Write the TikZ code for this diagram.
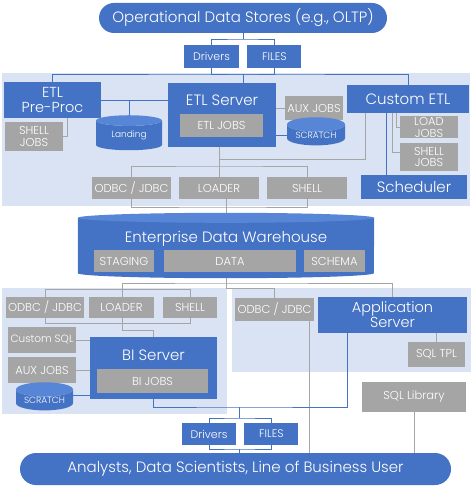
\documentclass[tikz,border=0pt]{standalone}
\usepackage{fontspec}
\setmainfont{Poppins}[UprightFont=* Light]
\usetikzlibrary{positioning, shapes.geometric, backgrounds}

\definecolor{odsblue}{RGB}{68,114,196}
\definecolor{odstop}{RGB}{88,134,214}
\definecolor{jobgray}{RGB}{165,165,165}
\definecolor{zoneblue}{RGB}{218,227,243}

\tikzset{
  sz/.style 2 args={minimum width=#1pt, minimum height=#2pt},
  bluebox/.style={rectangle, fill=odsblue, text=white, inner sep=0pt, align=center, font=\fontsize{15}{16}\selectfont},
  graybox/.style={rectangle, fill=jobgray, text=white, inner sep=0pt, align=center, font=\fontsize{11.5}{11.5}\selectfont},
  smallblue/.style={bluebox, font=\fontsize{11}{11}\selectfont},
  pill/.style={bluebox, rounded corners=15pt},
  drum/.style={cylinder, shape border rotate=90, cylinder uses custom fill, cylinder body fill=odsblue, cylinder end fill=odstop, text=white, inner sep=0pt, font=\fontsize{9}{9}\selectfont},
  title/.style={text=white, inner sep=0pt, font=\fontsize{15}{16}\selectfont},
  bline/.style={draw=odsblue, line width=0.9pt},
  gline/.style={draw=jobgray, line width=0.9pt},
  zone/.style={fill=zoneblue},
}

\begin{document}
\begin{tikzpicture}[x=1pt, y=-1pt]
  \useasboundingbox (0,0) rectangle (474,489);

  % zones
  \begin{scope}[on background layer]
    \fill[zone] (2,73) rectangle (470,206);
    \fill[zone] (2,288) rectangle (227,414);
    \fill[zone] (232,288) rectangle (471,372);
  \end{scope}

  % sources
  \node (ods) [pill, sz={288}{30}] at (243,18) {Operational Data Stores (e.g., OLTP)};
  \node (drv1) [smallblue, sz={55}{23}] at (211.5,56.5) {Drivers};
  \node (files1) [smallblue, sz={54}{23}, right=8pt of drv1] {FILES};

  % ETL tier
  \node (preproc) [bluebox, sz={97}{36}, font=\fontsize{14.5}{15}\selectfont] at (52.5,100) {ETL\\Pre-Proc};
  \node (preshell) [graybox, sz={58}{29}] at (34,136.5) {SHELL\\JOBS};
  \node (landing) [drum, sz={66}{35}, aspect=0.3] at (129,135.5) {Landing};
  \node (etlsrv) [bluebox, sz={108}{64}] at (222,115) {};
  \node (etltitle) [title] at (222,100) {ETL Server};
  \node (etljobs) [graybox, sz={83}{23}] at (221.5,125.5) {ETL JOBS};
  \node (etlaux) [graybox, sz={58}{24}] at (314,108) {AUX JOBS};
  \node (etlscratch) [drum, sz={58}{24}, aspect=0.35] at (316,135) {SCRATCH};
  \node (custom) [bluebox, sz={122}{28}] at (408,99) {Custom ETL};
  \node (loadjobs) [graybox, sz={58}{22}] at (429,127.5) {LOAD\\JOBS};
  \node (custshell) [graybox, sz={58}{28}] at (429,157) {SHELL\\JOBS};
  \node (sched) [bluebox, sz={106}{24}] at (414,187) {Scheduler};
  \node (odbc1) [graybox, sz={79}{22}] at (131.5,188) {ODBC / JDBC};
  \node (loader1) [graybox, sz={80}{22}] at (219,188) {LOADER};
  \node (shell1) [graybox, sz={80}{22}] at (307,188) {SHELL};

  % warehouse
  \node (edw) [sz={296}{65}, inner sep=0pt] at (226,245.5) {};
  \fill[odsblue] ([yshift=-5pt]edw.north west) -- ([yshift=5pt]edw.south west)
    arc[start angle=180, end angle=360, x radius=148pt, y radius=5pt]
    -- ([yshift=-5pt]edw.north east) -- cycle;
  \fill[odstop] ([yshift=-5pt]edw.north) ellipse [x radius=148pt, y radius=5pt];
  \node (edwtitle) [title] at (226,239) {Enterprise Data Warehouse};
  \node (staging) [graybox, sz={60}{22}] at (124,261) {STAGING};
  \node (data) [graybox, sz={132}{22}] at (230,261) {DATA};
  \node (schema) [graybox, sz={61}{22}] at (334.5,261) {SCHEMA};

  % BI tier
  \node (odbc2) [graybox, sz={78}{21}] at (45,307.5) {ODBC / JDBC};
  \node (loader2) [graybox, sz={65}{21}] at (121.5,307.5) {LOADER};
  \node (shell2) [graybox, sz={54}{21}] at (190,307.5) {SHELL};
  \node (customsql) [graybox, sz={68}{26}, font=\fontsize{10.5}{11}\selectfont] at (42,340) {Custom SQL};
  \node (biaux) [graybox, sz={68}{26}] at (42,370) {AUX JOBS};
  \node (biscratch) [drum, sz={57}{24}, aspect=0.35] at (44.5,400) {SCRATCH};
  \node (bisrv) [bluebox, sz={127}{62}] at (153.5,368) {};
  \node (bititle) [title] at (153.5,355) {BI Server};
  \node (bijobs) [graybox, sz={111}{24}] at (152.5,381) {BI JOBS};

  % application tier
  \node (odbc3) [graybox, sz={79}{23}] at (274.5,309.5) {ODBC / JDBC};
  \node (appsrv) [bluebox, sz={149}{36}, font=\fontsize{14.5}{15}\selectfont] at (392.5,315) {Application\\Server};
  \node (sqltpl) [graybox, sz={57}{25}] at (436.5,354.5) {SQL TPL};
  \node (sqllib) [graybox, sz={104}{30}] at (414,397) {SQL Library};

  % consumers
  \node (drv2) [smallblue, sz={54}{22}] at (209,434) {Drivers};
  \node (files2) [smallblue, sz={54}{22}, right=8pt of drv2] {FILES};
  \node (users) [pill, sz={431}{32}, rounded corners=16pt] at (235.5,469) {Analysts, Data Scientists, Line of Business User};

  % junctions
  \coordinate (odsj) at (243,39);
  \coordinate (bus1) at (243,74);
  \coordinate (etlj1) at (219,159);
  \coordinate (etlj2) at (219,166);
  \coordinate (edwin) at (226,207);
  \coordinate (edwout) at (226,283);
  \coordinate (edwout2) at (226,288);
  \coordinate (bij) at (122,330);
  \coordinate (bus3) at (239,407);
  \coordinate (bus4) at (239,418);
  \coordinate (bus5) at (239,449);

  % connectors
  \begin{scope}[on background layer]
    \draw[bline] (ods.south) -- (odsj);
    \draw[bline] (drv1.north) |- (odsj) -| (files1.north);
    \draw[bline] (drv1.south) |- (bus1) -| (files1.south);
    \draw[bline] (preproc.north) |- (bus1) -| (custom.north);
    \draw[bline] (bus1) -- (bus1 |- etlsrv.north);
    \draw[bline] (preproc.east) -- (preproc.east -| etlsrv.west);
    \draw[bline] (landing.north) -- (landing.north |- preproc.east);
    \draw[bline] (etlscratch.west) -- (etlscratch.west -| etlsrv.east);
    \draw[bline] ([xshift=-28pt]sched.north) -- ([xshift=-28pt]sched.north |- custom.south);
    \draw[gline] ([xshift=15pt]preproc.south) |- (preshell.east);
    \draw[gline] (etlaux.west) -- (etlaux.west -| etlsrv.east);
    \draw[gline] ([xshift=-12pt]custom.south) |- (loadjobs.west);
    \draw[gline] ([xshift=-16pt]custom.south) |- ([yshift=5pt]custshell.west);
    \draw[gline] ([xshift=-43pt]custom.south) |- (etlj1);
    \draw[gline] (etlj1 |- etlsrv.south) -- (etlj2);
    \draw[gline] (odbc1.north) |- (etlj2) -| (shell1.north);
    \draw[gline] (etlj2) -- (loader1.north);
    \draw[gline] (odbc1.south) |- (edwin) -| (shell1.south);
    \draw[gline] (edwin |- loader1.south) -- (edw.north);
    \draw[gline] (edw.south) -- (edwout2);
    \draw[gline] (appsrv.north) |- (edwout) -| (bij) -| (bisrv.north);
    \draw[gline] (edwout2) -| (odbc3.north);
    \draw[gline] ([yshift=7pt]odbc2.north) rectangle ([yshift=-5pt]shell2.south);
    \draw[gline] (customsql.east) -- (customsql.east -| bisrv.west);
    \draw[gline] (biaux.east) -- (biaux.east -| bisrv.west);
    \draw[bline] ([yshift=5pt]biscratch.east) -- ([yshift=5pt]biscratch.east -| bisrv.west);
    \draw[gline] (sqltpl.north) -- (sqltpl.north |- appsrv.south);
    \draw[gline] ([xshift=34.5pt]odbc3.south) -- ([xshift=34.5pt]odbc3.south |- users.north);
    \draw[gline] (sqllib.south) -- (sqllib.south |- users.north);
    \draw[bline] (bisrv.south) |- (bus3) -| ([xshift=-45pt]appsrv.south);
    \draw[bline] (bus3) -- (bus4);
    \draw[bline] (drv2.north) |- (bus4) -| (files2.north);
    \draw[bline] (drv2.south) |- (bus5) -| (files2.south);
    \draw[bline] (bus5) -- (bus5 |- users.north);
  \end{scope}
\end{tikzpicture}
\end{document}
